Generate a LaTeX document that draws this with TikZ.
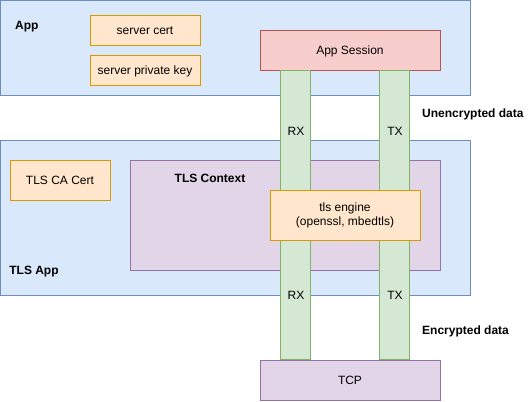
\documentclass[tikz,border=0pt]{standalone}
\usepackage{fontspec}
\setmainfont{Liberation Sans}
\usetikzlibrary{calc}
\definecolor{bluef}{HTML}{DAE8FC}\definecolor{blued}{HTML}{6C8EBF}
\definecolor{orangef}{HTML}{FFE6CC}\definecolor{oranged}{HTML}{D79B00}
\definecolor{redf}{HTML}{F8CECC}\definecolor{redd}{HTML}{B85450}
\definecolor{purplef}{HTML}{E1D5E7}\definecolor{purpled}{HTML}{9673A6}
\definecolor{greenf}{HTML}{D5E8D4}\definecolor{greend}{HTML}{82B366}
\begin{document}
\begin{tikzpicture}[x=1pt,y=-1pt,
  every node/.style={font=\fontsize{12}{14}\selectfont, inner sep=0pt},
  box/.style={draw, line width=1pt, text height=8.6pt, text depth=0pt, align=center},
  bluebox/.style={box, fill=bluef, draw=blued},
  orangebox/.style={box, fill=orangef, draw=oranged},
  redbox/.style={box, fill=redf, draw=redd},
  purplebox/.style={box, fill=purplef, draw=purpled},
  bar/.style={fill=greenf, draw=greend, line width=1pt},
  title/.style={font=\fontsize{12}{14}\selectfont\bfseries, text height=8.6pt, text depth=0pt},
  barlabel/.style={text height=8.6pt, text depth=0pt}]
\useasboundingbox (0,0) rectangle (531,402);

% outer containers
\node[bluebox, minimum width=470pt, minimum height=95pt] (app) at (235,47.5) {};
\node[bluebox, minimum width=470pt, minimum height=155pt] (tlsapp) at (235,218) {};
\node[title, anchor=west] (applabel) at (15,25) {App};
\node[title] (tlsapplabel) at (34,270) {TLS App};

% App contents
\node[orangebox, minimum width=110pt, minimum height=30pt] (cert) at (145,30) {server cert};
\node[orangebox, minimum width=110pt, minimum height=30pt] (key) at (145,70) {server private key};

% TLS App contents
\node[orangebox, minimum width=100pt, minimum height=40pt] (ca) at (60,180) {TLS CA Cert};
\node[purplebox, minimum width=310pt, minimum height=110pt] (ctx) at (285,215) {};
\node[title] (ctxlabel) at (210,178) {TLS Context};

% session and transport
\node[redbox, minimum width=180pt, minimum height=40pt] (session) at (350,50) {App Session};
\node[purplebox, minimum width=180pt, minimum height=40pt] (tcp) at (350,380) {TCP};

% data channels
\draw[bar] ($(session.south west)+(21,0)$) rectangle ($(tcp.north west)+(51,0)$);
\draw[bar] ($(session.south west)+(120,0)$) rectangle ($(tcp.north west)+(150,0)$);

\node[orangebox, minimum width=150pt, minimum height=50pt, text height=, text depth=] (engine) at (345,215) {tls engine\\(openssl, mbedtls)};

\node[barlabel] (rx1) at (296,131) {RX};
\node[barlabel] (tx1) at (395,131) {TX};
\node[barlabel] (rx2) at (296,295) {RX};
\node[barlabel] (tx2) at (395,295) {TX};

\node[title, anchor=west] (unenc) at (422,113) {Unencrypted data};
\node[title, anchor=west] (enc) at (422,330) {Encrypted data};
\end{tikzpicture}
\end{document}
